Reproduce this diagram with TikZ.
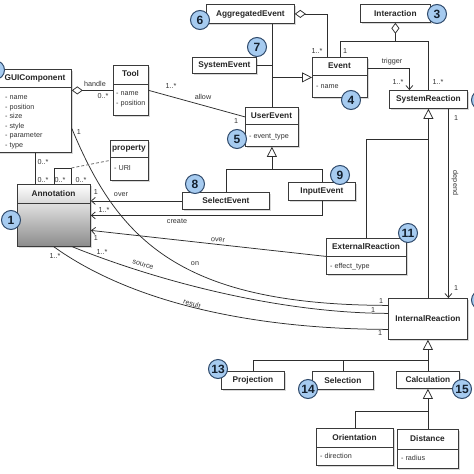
\documentclass[tikz,border=0pt]{standalone}
\usepackage{fontspec}
\setmainfont{Liberation Sans}
\usetikzlibrary{arrows.meta,shadows,calc}
\definecolor{boxc}{HTML}{3A3A3A}
\definecolor{linec}{HTML}{2E2E2E}
\definecolor{badgefill}{HTML}{A6CBF0}
\definecolor{badgedraw}{HTML}{2F4A6B}
\definecolor{badgetext}{HTML}{14202E}
\begin{document}
\begin{tikzpicture}[x=1pt,y=-1pt,
  box/.style={draw=boxc, fill=white, line width=0.8pt, anchor=north west, inner sep=0pt,
    drop shadow={shadow xshift=1.3pt, shadow yshift=-1.3pt, opacity=0.3}},
  sbox/.style={box, font=\fontsize{8.3}{10}\selectfont\bfseries, text=black!85},
  ttl/.style={font=\fontsize{8.3}{10}\selectfont\bfseries, text=black!85, inner sep=0pt},
  attr/.style={font=\fontsize{7.2}{9.6}\selectfont, text=black!80, inner sep=0pt, anchor=base west, align=left},
  lbl/.style={font=\fontsize{7.2}{8}\selectfont, text=black!80, inner sep=0pt},
  divider/.style={draw=boxc, line width=0.7pt},
  conn/.style={draw=linec, line width=0.75pt},
  agg/.style={{Diamond[open,length=11pt,width=8pt]}-},
  gen/.style={-{Triangle[open,length=10pt,width=10pt]}},
  nav/.style={-{Straight Barb[length=4pt,width=7pt]}},
  badge/.style={circle, draw=badgedraw, fill=badgefill, line width=1pt, minimum size=19pt,
    inner sep=0pt, font=\fontsize{12}{12}\selectfont\bfseries, text=badgetext}
]
\useasboundingbox (0,0) rectangle (474,474);
\fill[white] (0,0) rectangle (474,474);

% ---------- classes ----------
\node[box, minimum width=73pt, minimum height=83pt] (gui) at (-2,69) {};
\node[ttl] (gui-t) at (35,78) {GUIComponent};
\draw[divider] (-2,87) -- (71,87);
\node[attr] (gui-a) at (5,147.5) {- name\\- position\\- size\\- style\\- parameter\\- type};

\node[box, minimum width=35pt, minimum height=50pt] (tool) at (113,65) {};
\node[ttl] (tool-t) at (130.5,74) {Tool};
\draw[divider] (113,84) -- (148,84);
\node[attr] (tool-a) at (116,105.5) {- name\\- position};

\node[box, minimum width=38pt, minimum height=40pt] (property) at (110,140) {};
\node[ttl] (property-t) at (129,149) {property};
\draw[divider] (110,157) -- (148,157);
\node[attr] (property-a) at (114,170) {- URI};

\node[box, minimum width=73pt, minimum height=62pt] (annotation) at (17,184) {};
\shade[top color=white, bottom color=black!15] (17,184) rectangle (90,203);
\shade[top color=black!12, bottom color=black!45] (17,203) rectangle (90,246);
\draw[boxc, line width=0.8pt] (17,184) rectangle (90,246);
\draw[divider] (17,203) -- (90,203);
\node[ttl] (annotation-t) at (53.5,193.5) {Annotation};

\node[sbox, minimum width=88pt, minimum height=19pt] (aggregated) at (206,4) {AggregatedEvent};
\node[sbox, minimum width=64pt, minimum height=16pt] (systemevent) at (192,57) {SystemEvent};

\node[box, minimum width=53pt, minimum height=39pt] (userevent) at (245,107) {};
\node[ttl] (userevent-t) at (271.5,116) {UserEvent};
\draw[divider] (245,124) -- (298,124);
\node[attr] (userevent-a) at (249,138) {- event\_type};

\node[box, minimum width=55pt, minimum height=40pt] (event) at (312,57) {};
\node[ttl] (event-t) at (339.5,66) {Event};
\draw[divider] (312,75) -- (367,75);
\node[attr] (event-a) at (316,88) {- name};

\node[sbox, minimum width=70pt, minimum height=18pt] (interaction) at (360,4) {Interaction};
\node[sbox, minimum width=78pt, minimum height=18pt] (sysreact) at (389,90) {SystemReaction};
\node[sbox, minimum width=87pt, minimum height=17pt] (selectevent) at (182,192) {SelectEvent};
\node[sbox, minimum width=67pt, minimum height=18pt] (inputevent) at (288,182) {InputEvent};

\node[box, minimum width=80pt, minimum height=36pt] (extreact) at (326,238) {};
\node[ttl] (extreact-t) at (366,247) {ExternalReaction};
\draw[divider] (326,256) -- (406,256);
\node[attr] (extreact-a) at (330,268.5) {- effect\_type};

\node[sbox, minimum width=79pt, minimum height=41pt] (intreact) at (388,298) {InternalReaction};
\node[sbox, minimum width=63pt, minimum height=18pt] (projection) at (221,371) {Projection};
\node[sbox, minimum width=61pt, minimum height=18pt] (selection) at (312,371) {Selection};
\node[sbox, minimum width=63pt, minimum height=17pt] (calculation) at (396,371) {Calculation};

\node[box, minimum width=77pt, minimum height=37pt] (orientation) at (316,428) {};
\node[ttl] (orientation-t) at (354.5,437.5) {Orientation};
\draw[divider] (316,447) -- (393,447);
\node[attr] (orientation-a) at (320,458.5) {- direction};

\node[box, minimum width=61pt, minimum height=39pt] (distance) at (397,429) {};
\node[ttl] (distance-t) at (427.5,438.5) {Distance};
\draw[divider] (397,449) -- (458,449);
\node[attr] (distance-a) at (401,460.5) {- radius};

% ---------- connectors ----------
\draw[conn, agg] (tool.west -| gui.east) -- (tool.west);
\draw[conn] (tool.east) -- ([yshift=10pt]userevent.west);

\draw[conn, agg] (aggregated.east) -| ([xshift=-12.5pt]event.north);
\draw[conn] (userevent.north) -- (userevent.north |- aggregated.south);
\draw[conn] (systemevent.east) -- (systemevent.east -| userevent.north);
\draw[conn, gen] (event.west -| userevent.north) -- (event.west);

\draw[conn, agg] (interaction.south) -- ++(0,19) coordinate (ij);
\draw[conn] (event.north) |- (ij) -| (sysreact.north);

\draw[conn, nav] ([yshift=9pt]event.east) -| ([xshift=-19pt]sysreact.north);

\draw[conn, gen] (sysreact.south |- intreact.north) -- (sysreact.south);
\draw[conn] (extreact.north) |- ([yshift=-31pt]sysreact.south);
\draw[conn, nav] ([xshift=20pt]sysreact.south) -- ([xshift=20pt]sysreact.south |- intreact.north);

\coordinate (uej) at ([yshift=-23pt]userevent.south);
\draw[conn] (selectevent.north) |- (uej) -| (inputevent.north);
\draw[conn, gen] (uej) -- (userevent.south);

\draw[conn, nav] (selectevent.west) -- (selectevent.west -| annotation.east);
\draw[conn, nav] (inputevent.south) |- (annotation.east);
\draw[conn, nav] (extreact.west) -- ([yshift=-15pt]annotation.east);

\draw[conn] ([yshift=-17.5pt]gui.east) .. controls (118,240) and (180,305) .. ([yshift=13.5pt]intreact.west);
\draw[conn] ([xshift=18.5pt]annotation.south) .. controls (160,282) and (280,313) .. ([yshift=5.5pt]intreact.west);
\draw[conn] (annotation.south) .. controls (128,300) and (245,329) .. ([yshift=-10.5pt]intreact.west);

\draw[conn] (gui.south) -- (gui.south |- annotation.north);
\draw[conn] (annotation.north) -- ++(0,-16) coordinate (lpA) -- ++(17.5,0) coordinate (lpB) -- (lpB |- annotation.north);
\draw[conn, dash pattern=on 3pt off 2pt, draw=black!60] (lpB) -- (property.west);

\coordinate (irj) at ([yshift=-21pt]intreact.south);
\draw[conn, gen] (calculation.north) -- (intreact.south);
\draw[conn] (projection.north) |- (irj);
\draw[conn] (selection.north) -- (selection.north |- irj);

\coordinate (clj) at ([yshift=-23pt]calculation.south);
\draw[conn, gen] (distance.north) -- (calculation.south);
\draw[conn] (orientation.north) |- (clj);

% ---------- labels ----------
\node[lbl] (l-handle) at (95,84) {handle};
\node[lbl] (l-h0) at (103,96) {0..*};
\node[lbl] (l-allow1) at (171,86) {1..*};
\node[lbl] (l-allow) at (203,97) {allow};
\node[lbl] (l-allow2) at (236,121) {1};
\node[lbl] (l-ag) at (317,51) {1..*};
\node[lbl] (l-in1) at (345,51) {1};
\node[lbl] (l-in2) at (438,82) {1..*};
\node[lbl] (l-trig) at (392,62) {trigger};
\node[lbl] (l-trig2) at (398,82) {1..*};
\node[lbl] (l-dep1) at (456,118) {1};
\node[lbl] (l-dep2) at (456,288) {1};
\node[lbl, rotate=-90] (l-dep) at (455,183) {depend};
\node[lbl] (l-gui1) at (79,132) {1};
\node[lbl] (l-ga1) at (43,162) {0..*};
\node[lbl] (l-ga2) at (43,180) {0..*};
\node[lbl] (l-lp1) at (60,180) {0..*};
\node[lbl] (l-lp2) at (81,180) {0..*};
\node[lbl] (l-ov1) at (96,192) {1};
\node[lbl] (l-ov) at (121,195) {over};
\node[lbl] (l-cr1) at (104,210) {1..*};
\node[lbl] (l-cr) at (177,221) {create};
\node[lbl] (l-ox1) at (96,238) {1};
\node[lbl, rotate=-6] (l-ox) at (218,240) {over};
\node[lbl] (l-on) at (195,264) {on};
\node[lbl, rotate=-17] (l-src) at (143,265) {source};
\node[lbl] (l-src1) at (102,252) {1..*};
\node[lbl, rotate=-17] (l-res) at (192,304) {result};
\node[lbl] (l-res1) at (55,256) {1..*};
\node[lbl] (l-on2) at (381,301) {1};
\node[lbl] (l-src2) at (373,310) {1};
\node[lbl] (l-res2) at (380,333) {1};

% ---------- badges ----------
\node[badge] (b1) at (11,220) {1};
\node[badge] (b2) at (-5,70) {2};
\node[badge] (b3) at (437,14) {3};
\node[badge] (b4) at (351,100) {4};
\node[badge] (b5) at (237,139) {5};
\node[badge] (b6) at (200,20) {6};
\node[badge] (b7) at (257,47) {7};
\node[badge] (b8) at (195,184) {8};
\node[badge] (b9) at (340,175) {9};
\node[badge] (b10) at (481,100) {10};
\node[badge] (b11) at (408,233) {11};
\node[badge] (b12) at (481,300) {12};
\node[badge] (b13) at (218,369) {13};
\node[badge] (b14) at (308,389) {14};
\node[badge] (b15) at (462,389) {15};
\end{tikzpicture}
\end{document}
